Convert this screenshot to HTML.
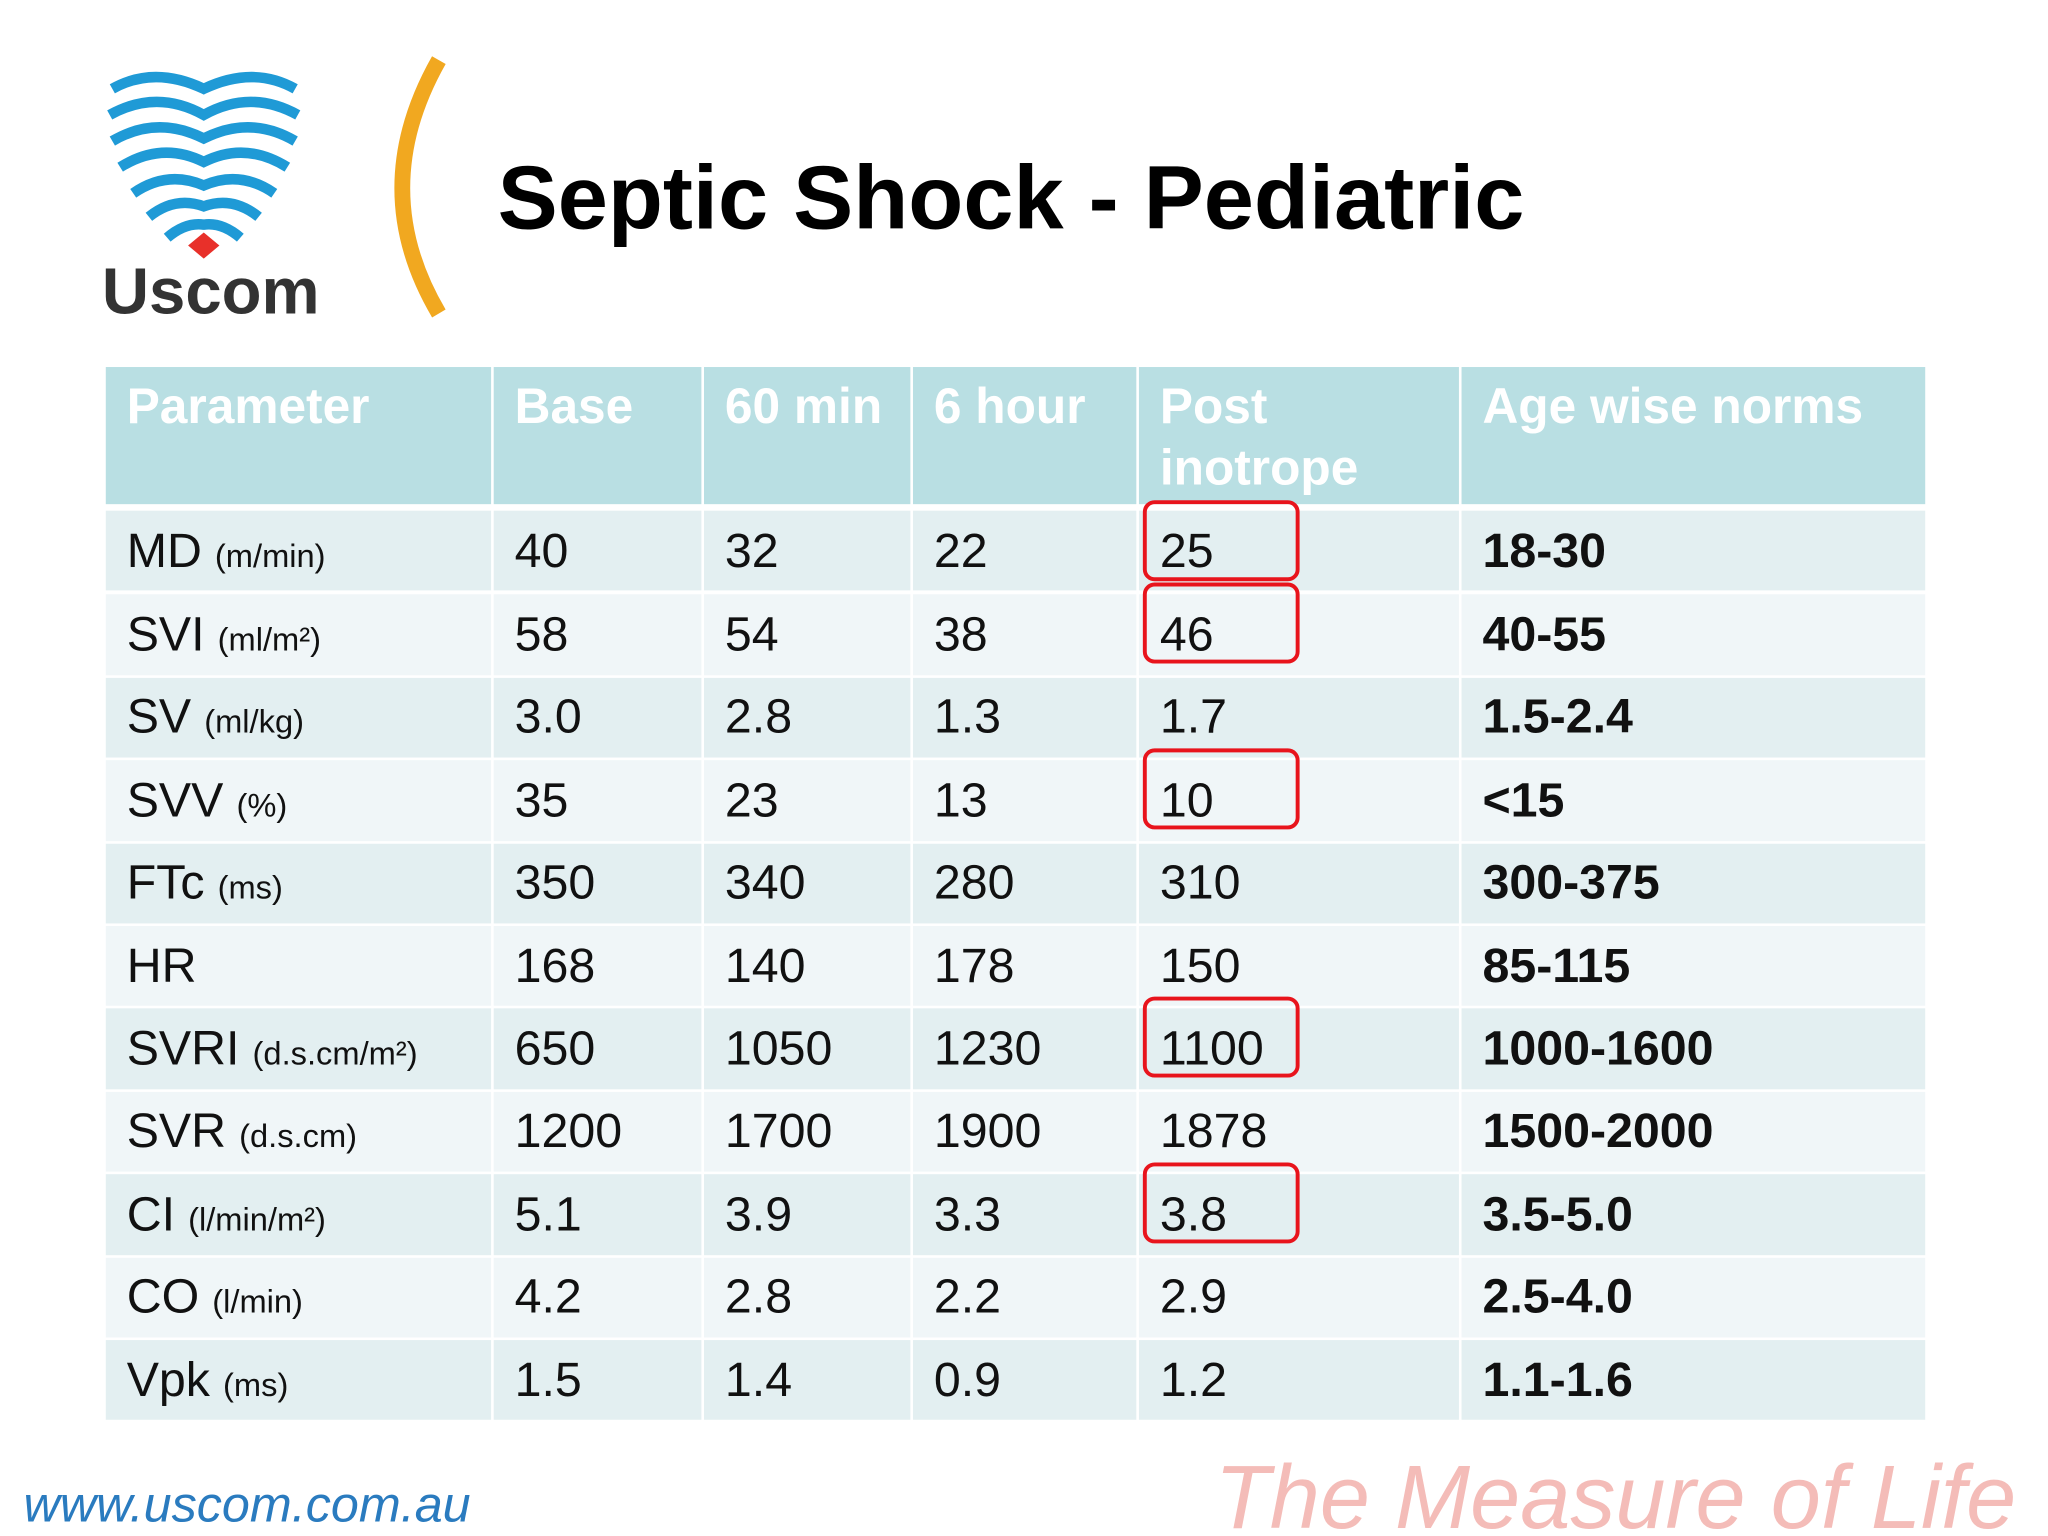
<!DOCTYPE html>
<html><head><meta charset="utf-8">
<style>
html,body{margin:0;padding:0;background:#fff;overflow:hidden}
#stage{position:absolute;left:0;top:0;width:1568px;height:1176px;transform:scale(1.30612);transform-origin:0 0;font-family:"Liberation Sans",sans-serif;background:#fff;overflow:hidden}
.cell{position:absolute;box-sizing:border-box;padding-left:16px;font-size:37px;color:#111;display:flex;align-items:center;white-space:nowrap}
.hd{position:absolute;box-sizing:border-box;padding:8px 0 0 16px;font-size:38px;font-weight:bold;color:#fff;background:#b9dfe3;line-height:47px}
.unit{font-size:25px;margin-left:10px}
.norm{font-weight:bold}
.box{position:absolute;border:3px solid #e8141c;border-radius:9px;box-sizing:border-box}
</style></head><body>
<div id="stage">
  <svg style="position:absolute;left:76px;top:50px" width="170" height="200" viewBox="0 0 170 200">
    <g fill="none" stroke="#1f9ad6" stroke-width="8">
      <path d="M10 18 Q42 0 80 18 Q118 0 150 18"/>
      <path d="M8 38 Q44 18 80 38 Q116 18 152 38"/>
      <path d="M10 58 Q44 38 80 56 Q116 38 150 58"/>
      <path d="M16 78 Q48 58 80 74 Q112 58 144 78"/>
      <path d="M26 98 Q52 80 80 92 Q108 80 134 98"/>
      <path d="M38 116 Q58 100 80 108 Q102 100 122 116"/>
      <path d="M52 132 Q66 120 80 122 Q94 120 108 132"/>
    </g>
    <path d="M80 128 L92 138 L80 148 L68 138Z" fill="#e8302a"/>
    <text x="2" y="190" font-family="Liberation Sans,sans-serif" font-weight="bold" font-size="50" fill="#333">Uscom</text>
  </svg>
  <svg style="position:absolute;left:280px;top:40px" width="70" height="210">
    <path d="M56 6 Q0 105 56 200" fill="none" stroke="#f1a820" stroke-width="12"/>
  </svg>
  <div style="position:absolute;left:381px;top:112px;font-size:69px;font-weight:bold;color:#000">Septic Shock - Pediatric</div>
  <div id="tbl"></div>
  <div style="position:absolute;left:18px;top:1131px;font-size:38.5px;font-style:italic;color:#2a7bbf">www.uscom.com.au</div>
  <div style="position:absolute;left:930px;top:1107px;font-size:69px;font-style:italic;color:#f4bcb8;white-space:nowrap">The Measure of Life</div>
</div>
<script>
const headers=["Parameter","Base","60 min","6 hour","Post<br>inotrope","Age wise norms"];
const params=["MD","SVI","SV","SVV","FTc","HR","SVRI","SVR","CI","CO","Vpk"];
const units=["(m/min)","(ml/m²)","(ml/kg)","(%)","(ms)","","(d.s.cm/m²)","(d.s.cm)","(l/min/m²)","(l/min)","(ms)"];
const base=["40","58","3.0","35","350","168","650","1200","5.1","4.2","1.5"];
const min60=["32","54","2.8","23","340","140","1050","1700","3.9","2.8","1.4"];
const hour6=["22","38","1.3","13","280","178","1230","1900","3.3","2.2","0.9"];
const postIno=["25","46","1.7","10","310","150","1100","1878","3.8","2.9","1.2"];
const norms=["18-30","40-55","1.5-2.4","<15","300-375","85-115","1000-1600","1500-2000","3.5-5.0","2.5-4.0","1.1-1.6"];
const highlighted=[0,1,3,6,8];
const colX=[81,376,537,697,870,1117,1474];
const tbl=document.getElementById('tbl');
const top0=391,rowH=63.4;
headers.forEach((h,i)=>{
  const d=document.createElement('div');d.className='hd';
  
  
  d.style.left=(colX[i]+(i?2:0))+'px';d.style.top='281px';d.style.width=(colX[i+1]-colX[i]-(i?2:0))+'px';d.style.height='105px';
  d.innerHTML=h;tbl.appendChild(d);
});
const cols=[null,base,min60,hour6,postIno,norms];
params.forEach((p,r)=>{
  const y=top0+r*rowH;
  for(let c=0;c<6;c++){
    const d=document.createElement('div');d.className='cell'+(c==5?' norm':'');
    
    
    d.style.left=(colX[c]+(c?2:0))+'px';d.style.top=(y+(r?1:0))+'px';
    d.style.width=(colX[c+1]-colX[c]-(c?2:0))+'px';d.style.height=(rowH-2)+'px';
    d.style.background=r%2==0?'#e3eff1':'#f0f6f8';
    if(c==0)d.innerHTML='<span>'+p+(units[r]?'<span class="unit">'+units[r]+'</span>':'')+'</span>';
    else d.textContent=cols[c][r];
    tbl.appendChild(d);
  }
});
highlighted.forEach(r=>{
  const b=document.createElement('div');b.className='box';
  
  
  b.style.left='875px';b.style.top=(top0+r*rowH-8)+'px';b.style.width='120px';b.style.height='62px';
  tbl.appendChild(b);
});
</script>
</body></html>
